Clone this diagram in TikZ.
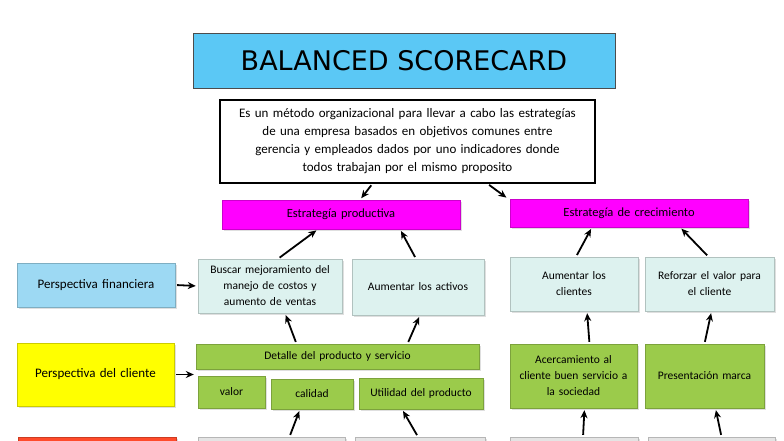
\documentclass[tikz,border=0pt]{standalone}
\usepackage{fontspec}
\setmainfont{Carlito}
\newfontfamily\titlefont{DejaVu Sans}
\usetikzlibrary{shadows,arrows.meta}
\definecolor{titleblue}{HTML}{5BC8F5}
\definecolor{finblue}{HTML}{9DD9F3}
\definecolor{paleteal}{HTML}{DDF2EF}
\definecolor{leafgreen}{HTML}{9BCB4B}
\definecolor{redbox}{HTML}{FF4B2B}
\definecolor{greybox}{HTML}{E4E4E4}
\definecolor{pinkbox}{HTML}{FF00FF}
\definecolor{yellowbox}{HTML}{FFFF00}

\tikzset{
    box/.style={draw=#1!80!black, fill=#1, line width=0.4pt, text width=\pgfkeysvalueof{/pgf/minimum width}-8pt, align=center, inner sep=3pt, font=\fontsize{11.5}{16}\selectfont, drop shadow={opacity=0.25, shadow xshift=1.5pt, shadow yshift=-1.5pt}},
    arr/.style={-{Stealth[length=8pt,width=7pt]}, line width=1.8pt, shorten <=2pt, shorten >=2pt}
}

\begin{document}
\begin{tikzpicture}[x=1pt, y=-1pt]
    \useasboundingbox (0,0) rectangle (784,441);
    \clip (0,0) rectangle (784,441);
    % Title and description
    \node (title) [draw=black!70, fill=titleblue, minimum width=422pt, minimum height=55pt, font=\titlefont\fontsize{27}{30}\selectfont] at (404,60.5) {BALANCED SCORECARD};
    \node (desc) [draw, line width=1.4pt, fill=white, minimum width=375pt, minimum height=83pt, text width=365pt, align=center, font=\fontsize{13}{18}\selectfont] at (407.5,141.5) {Es un método organizacional para llevar a cabo las estrategías\\ de una empresa basados en objetivos comunes entre\\ gerencia y empleados dados por uno indicadores donde\\ todos trabajan por el mismo proposito};

    % Strategies
    \node (estp) [box=pinkbox, minimum width=238pt, minimum height=29pt, font=\fontsize{12.5}{15}\selectfont] at (341,214.5) {Estrategía productiva};
    \node (estc) [box=pinkbox, minimum width=238pt, minimum height=28pt, font=\fontsize{12.5}{15}\selectfont] at (629,213) {Estrategía de crecimiento};

    % Financial row
    \node (pfin) [box=finblue, minimum width=158pt, minimum height=44pt, font=\fontsize{13}{15}\selectfont] at (96,285) {Perspectiva financiera};
    \node (buscar) [box=paleteal, minimum width=144pt, minimum height=54pt] at (270,286) {Buscar mejoramiento del\\ manejo de costos y\\ aumento de ventas};
    \node (activos) [box=paleteal, minimum width=132pt, minimum height=56pt] at (418,287) {Aumentar los activos};
    \node (aclientes) [box=paleteal, minimum width=128pt, minimum height=54pt] at (574,284) {Aumentar los\\ clientes};
    \node (reforzar) [box=paleteal, minimum width=129pt, minimum height=54pt] at (709.5,284) {Reforzar el valor para\\ el cliente};

    % Client row
    \node (pcli) [box=yellowbox, minimum width=157pt, minimum height=63pt, font=\fontsize{13}{15}\selectfont] at (95.5,374.5) {Perspectiva del cliente};
    \node (detalle) [box=leafgreen, minimum width=283pt, minimum height=25pt] at (337.5,356.5) {Detalle del producto y servicio};
    \node (valor) [box=leafgreen, minimum width=67pt, minimum height=32pt] at (231.5,392) {valor};
    \node (calidad) [box=leafgreen, minimum width=82pt, minimum height=30pt] at (312,394) {calidad};
    \node (utilidad) [box=leafgreen, minimum width=124pt, minimum height=31pt] at (421,393.5) {Utilidad del producto};
    \node (acerc) [box=leafgreen, minimum width=127pt, minimum height=64pt] at (573.5,376) {Acercamiento al\\ cliente buen servicio a\\ la sociedad};
    \node (present) [box=leafgreen, minimum width=119pt, minimum height=64pt] at (704.5,376) {Presentación marca};

    % Next row (cut off)
    \node (pnext) [box=redbox, minimum width=158pt, minimum height=36pt] at (97,455) {};
    \node (b1) [box=greybox, minimum width=147pt, minimum height=36pt] at (271.5,455) {};
    \node (b2) [box=greybox, minimum width=130pt, minimum height=36pt] at (420,455) {};
    \node (b3) [box=greybox, minimum width=128pt, minimum height=36pt] at (574,455) {};
    \node (b4) [box=greybox, minimum width=127pt, minimum height=36pt] at (711.5,455) {};

    % Arrows
    \draw[arr] ([xshift=-35pt]desc.south) -- ([xshift=19pt]estp.north);
    \draw[arr] ([xshift=80pt]desc.south) -- ([xshift=-121pt]estc.north);
    \draw[arr] ([xshift=8pt]buscar.north) -- ([xshift=-23pt]estp.south);
    \draw[arr] ([xshift=-2pt]activos.north) -- ([xshift=59pt]estp.south);
    \draw[arr] ([xshift=2pt]aclientes.north) -- ([xshift=-37pt]estc.south);
    \draw[arr] ([xshift=-1pt]reforzar.north) -- ([xshift=51pt]estc.south);
    \draw[arr] (pfin.east) -- (buscar.west);
    \draw[arr] ([xshift=-41pt]detalle.north) -- ([xshift=15pt]buscar.south);
    \draw[arr] ([xshift=70pt]detalle.north) -- ([xshift=2pt]activos.south);
    \draw[arr] ([xshift=16pt]acerc.north) -- ([xshift=13pt]aclientes.south);
    \draw[arr] (present.north) -- ([xshift=2pt]reforzar.south);
    \draw[arr] (pcli.east) -- (pcli.east -| detalle.west);
    \draw[arr] ([xshift=18pt]b1.north) -- ([xshift=-12pt]calidad.south);
    \draw[arr] ([xshift=-2pt]b2.north) -- ([xshift=-19pt]utilidad.south);
    \draw[arr] ([xshift=9pt]b3.north) -- ([xshift=11pt]acerc.south);
    \draw[arr] ([xshift=10pt]b4.north) -- ([xshift=11pt]present.south);
\end{tikzpicture}
\end{document}
